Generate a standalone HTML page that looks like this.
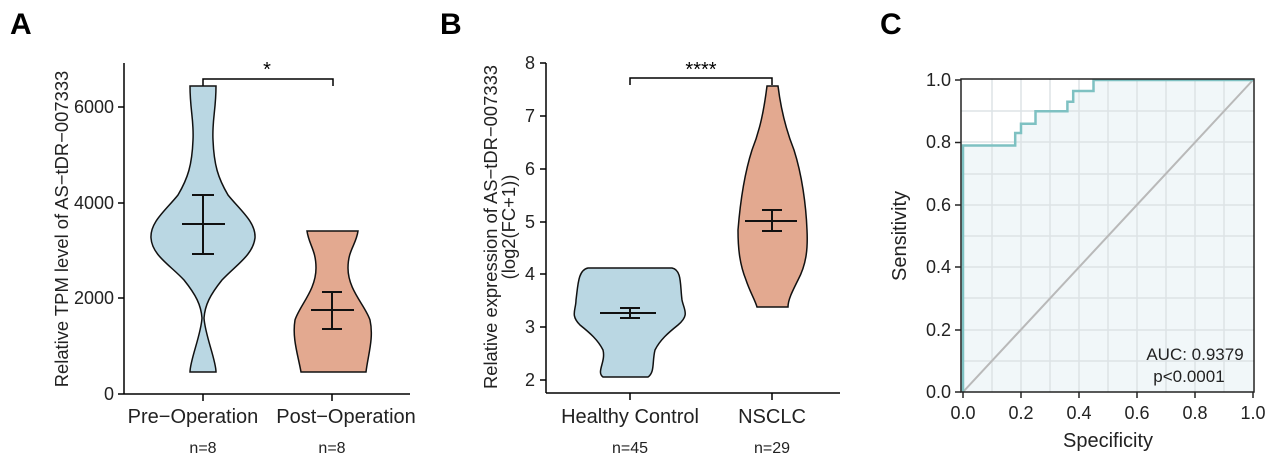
<!DOCTYPE html>
<html><head><meta charset="utf-8"><style>
html,body{margin:0;padding:0;background:#fff;}
svg{display:block;font-family:"Liberation Sans",Arial,sans-serif;}
</style></head><body>
<svg width="1269" height="459" viewBox="0 0 1269 459" xmlns="http://www.w3.org/2000/svg">
<text x="10" y="34" font-size="30" font-weight="bold" fill="#000">A</text>
<text x="440" y="34" font-size="30" font-weight="bold" fill="#000">B</text>
<text x="880" y="34" font-size="30" font-weight="bold" fill="#000">C</text>

<!-- ===== Panel A ===== -->
<g stroke="#000" stroke-width="1.5" fill="none">
<line x1="124" y1="63" x2="124" y2="394"/>
<line x1="124" y1="394" x2="410" y2="394"/>
<line x1="118" y1="394" x2="124" y2="394"/>
<line x1="118" y1="298" x2="124" y2="298"/>
<line x1="118" y1="203" x2="124" y2="203"/>
<line x1="118" y1="107" x2="124" y2="107"/>
<line x1="203" y1="394" x2="203" y2="401"/>
<line x1="332" y1="394" x2="332" y2="401"/>
<polyline points="203,86 203,79 333,79 333,86"/>
</g>
<g font-size="18" fill="#222" text-anchor="end">
<text x="114" y="400">0</text><text x="114" y="304">2000</text><text x="114" y="209">4000</text><text x="114" y="113">6000</text>
</g>
<text transform="translate(68,229) rotate(-90)" font-size="18.4" fill="#222" text-anchor="middle">Relative TPM level of AS−tDR−007333</text>
<text x="267" y="76" font-size="20" text-anchor="middle">*</text>
<path d="M190,86 L216,86 C216,110 212,120 213,140 C214,165 218,178 228,195 C240,210 256,222 255,238 C253,255 236,265 222,280 C210,295 205,305 204,318 C205,335 216,360 216,372 L190,372 C190,360 201,335 202,318 C201,305 196,295 184,280 C170,265 152,255 151,238 C150,222 166,210 178,195 C188,178 192,165 193,140 C194,120 190,110 190,86 Z" fill="#bad7e3" stroke="#111" stroke-width="1.5"/>
<g stroke="#111" stroke-width="2"><line x1="203" y1="195" x2="203" y2="254"/><line x1="192" y1="195" x2="214" y2="195"/><line x1="192" y1="254" x2="214" y2="254"/><line x1="182" y1="224" x2="225" y2="224"/></g>
<path d="M307,231 L358,231 C356,245 348,250 348,268 C348,290 365,305 370,320 C374,338 368,355 366,372 L301,372 C298,355 292,338 295,320 C300,305 316,290 316,268 C316,250 309,245 307,231 Z" fill="#e3a990" stroke="#111" stroke-width="1.5"/>
<g stroke="#111" stroke-width="2"><line x1="332" y1="292" x2="332" y2="329"/><line x1="322" y1="292" x2="342" y2="292"/><line x1="322" y1="329" x2="342" y2="329"/><line x1="311" y1="310" x2="354" y2="310"/></g>
<g font-size="20" fill="#222" text-anchor="middle">
<text x="193" y="423">Pre−Operation</text><text x="346" y="423">Post−Operation</text>
</g>
<g font-size="16" fill="#222" text-anchor="middle"><text x="203" y="453">n=8</text><text x="332" y="453">n=8</text></g>

<!-- ===== Panel B ===== -->
<g stroke="#000" stroke-width="1.5" fill="none">
<line x1="546" y1="63" x2="546" y2="393"/>
<line x1="546" y1="393" x2="840" y2="393"/>
<line x1="540" y1="63" x2="546" y2="63"/>
<line x1="540" y1="116" x2="546" y2="116"/>
<line x1="540" y1="169" x2="546" y2="169"/>
<line x1="540" y1="222" x2="546" y2="222"/>
<line x1="540" y1="274" x2="546" y2="274"/>
<line x1="540" y1="327" x2="546" y2="327"/>
<line x1="540" y1="380" x2="546" y2="380"/>
<line x1="630" y1="393" x2="630" y2="400"/>
<line x1="772" y1="393" x2="772" y2="400"/>
<polyline points="630,85 630,78 772,78 772,85"/>
</g>
<g font-size="18" fill="#222" text-anchor="end">
<text x="535" y="69">8</text><text x="535" y="122">7</text><text x="535" y="175">6</text><text x="535" y="228">5</text><text x="535" y="280">4</text><text x="535" y="333">3</text><text x="535" y="386">2</text>
</g>
<text transform="translate(497,227) rotate(-90)" font-size="18.4" fill="#222" text-anchor="middle">Relative expression of AS−tDR−007333</text>
<text transform="translate(515,227) rotate(-90)" font-size="18.4" fill="#222" text-anchor="middle">(log2(FC+1))</text>
<text x="701" y="76" font-size="20" text-anchor="middle">****</text>
<path d="M588,268 L672,268 C682,270 680,285 682,300 C684,310 690,315 678,325 C668,333 660,340 655,350 C652,362 655,372 648,377 L603,377 C596,372 606,362 603,350 C598,340 590,333 580,325 C570,315 576,310 576,300 C578,285 578,270 588,268 Z" fill="#bad7e3" stroke="#111" stroke-width="1.5"/>
<g stroke="#111" stroke-width="2"><line x1="630" y1="308" x2="630" y2="318"/><line x1="620" y1="308" x2="640" y2="308"/><line x1="620" y1="318" x2="640" y2="318"/><line x1="600" y1="313" x2="656" y2="313"/></g>
<path d="M767,86 L778,86 C781,110 786,130 794,150 C802,175 806,205 807,230 C808,250 806,265 798,280 C792,292 788,300 788,307 L757,307 C755,300 750,292 746,280 C740,265 738,250 738,230 C740,205 744,175 752,150 C760,130 764,110 767,86 Z" fill="#e3a990" stroke="#111" stroke-width="1.5"/>
<g stroke="#111" stroke-width="2"><line x1="772" y1="210" x2="772" y2="231"/><line x1="762" y1="210" x2="782" y2="210"/><line x1="762" y1="231" x2="782" y2="231"/><line x1="745" y1="221" x2="797" y2="221"/></g>
<g font-size="20" fill="#222" text-anchor="middle"><text x="630" y="423">Healthy Control</text><text x="772" y="423">NSCLC</text></g>
<g font-size="16" fill="#222" text-anchor="middle"><text x="630" y="453">n=45</text><text x="772" y="453">n=29</text></g>

<!-- ===== Panel C ===== -->
<rect x="961" y="79" width="293" height="313" fill="#fff"/>
<path d="M963,392 L963,145.5 L1015.2,145.5 L1015.2,133 L1021,133 L1021,123.7 L1035.5,123.7 L1035.5,111.2 L1067.4,111.2 L1067.4,101.8 L1073.2,101.8 L1073.2,91 L1093.5,91 L1093.5,80 L1253,80 L1253,392 Z" fill="#f1f7f9"/>
<g stroke="#dde3e6" stroke-width="1.5">
<line x1="992" y1="79" x2="992" y2="392"/><line x1="1021" y1="79" x2="1021" y2="392"/><line x1="1050" y1="79" x2="1050" y2="392"/><line x1="1079" y1="79" x2="1079" y2="392"/><line x1="1108" y1="79" x2="1108" y2="392"/><line x1="1137" y1="79" x2="1137" y2="392"/><line x1="1166" y1="79" x2="1166" y2="392"/><line x1="1195" y1="79" x2="1195" y2="392"/><line x1="1224" y1="79" x2="1224" y2="392"/>
<line x1="961" y1="111" x2="1254" y2="111"/><line x1="961" y1="142" x2="1254" y2="142"/><line x1="961" y1="174" x2="1254" y2="174"/><line x1="961" y1="205" x2="1254" y2="205"/><line x1="961" y1="236" x2="1254" y2="236"/><line x1="961" y1="267" x2="1254" y2="267"/><line x1="961" y1="298" x2="1254" y2="298"/><line x1="961" y1="330" x2="1254" y2="330"/><line x1="961" y1="361" x2="1254" y2="361"/>
</g>
<line x1="963" y1="392" x2="1253" y2="80" stroke="#b9b9b9" stroke-width="2"/>
<path d="M963,392 L963,145.5 L1015.2,145.5 L1015.2,133 L1021,133 L1021,123.7 L1035.5,123.7 L1035.5,111.2 L1067.4,111.2 L1067.4,101.8 L1073.2,101.8 L1073.2,91 L1093.5,91 L1093.5,80 L1253,80" fill="none" stroke="#7ec1c2" stroke-width="2.5"/>
<rect x="961" y="79" width="293" height="313" fill="none" stroke="#222" stroke-width="1.5"/>
<g stroke="#222" stroke-width="1.5">
<line x1="955" y1="80" x2="961" y2="80"/><line x1="955" y1="142.5" x2="961" y2="142.5"/><line x1="955" y1="205" x2="961" y2="205"/><line x1="955" y1="267" x2="961" y2="267"/><line x1="955" y1="330" x2="961" y2="330"/><line x1="955" y1="392" x2="961" y2="392"/>
<line x1="963" y1="392" x2="963" y2="398"/><line x1="1021" y1="392" x2="1021" y2="398"/><line x1="1079" y1="392" x2="1079" y2="398"/><line x1="1137" y1="392" x2="1137" y2="398"/><line x1="1195" y1="392" x2="1195" y2="398"/><line x1="1253" y1="392" x2="1253" y2="398"/>
</g>
<g font-size="18" fill="#222" text-anchor="end">
<text x="951" y="86">1.0</text><text x="951" y="148">0.8</text><text x="951" y="211">0.6</text><text x="951" y="273">0.4</text><text x="951" y="336">0.2</text><text x="951" y="398">0.0</text>
</g>
<g font-size="18" fill="#222" text-anchor="middle">
<text x="963" y="419">0.0</text><text x="1021" y="419">0.2</text><text x="1079" y="419">0.4</text><text x="1137" y="419">0.6</text><text x="1195" y="419">0.8</text><text x="1253" y="419">1.0</text>
</g>
<text x="1108" y="447" font-size="20" fill="#222" text-anchor="middle">Specificity</text>
<text transform="translate(906,236) rotate(-90)" font-size="20" fill="#222" text-anchor="middle">Sensitivity</text>
<text x="1195" y="360" font-size="17" fill="#222" text-anchor="middle">AUC: 0.9379</text>
<text x="1189" y="382" font-size="17" fill="#222" text-anchor="middle">p&lt;0.0001</text>
</svg>
</body></html>
